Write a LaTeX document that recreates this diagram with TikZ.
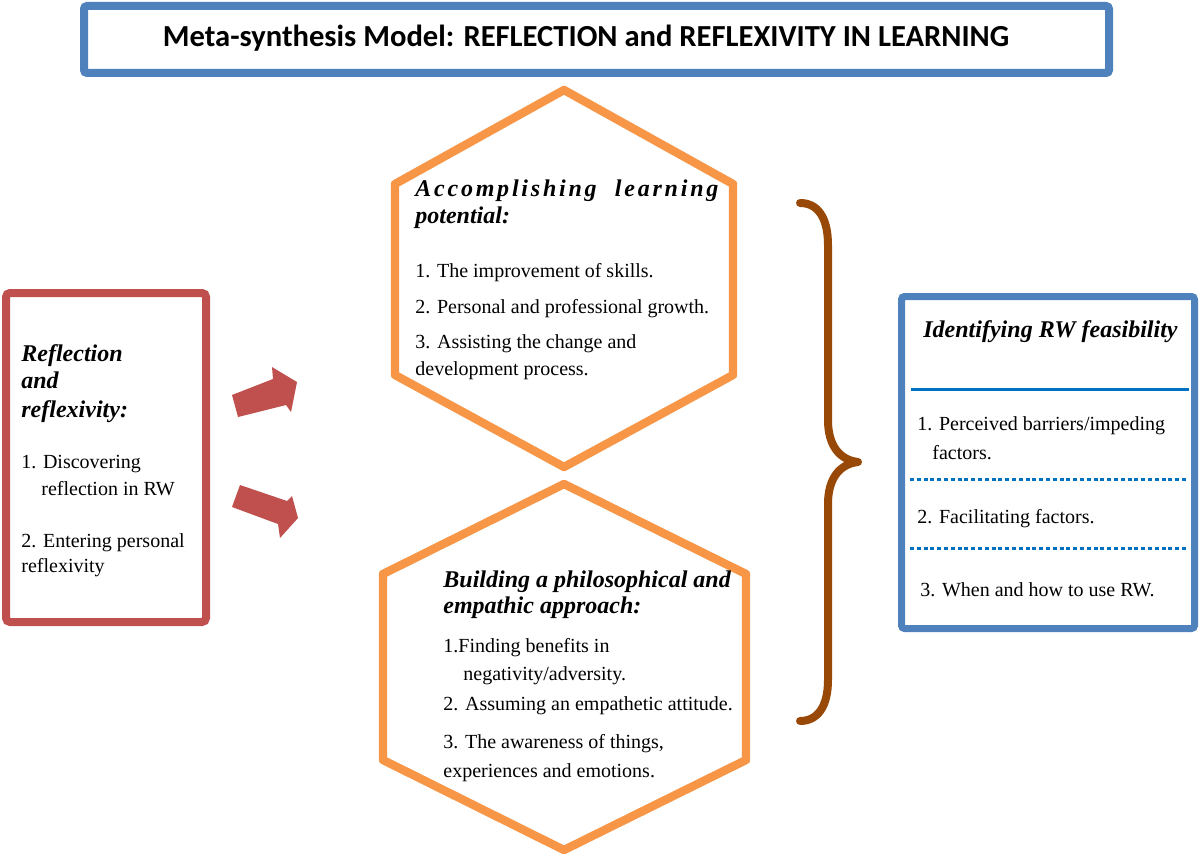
\documentclass[tikz,border=0pt]{standalone}
\usepackage{fontspec}
\setmainfont{Liberation Serif}
\newfontfamily\titlefont{Carlito}
\usetikzlibrary{shadows}
\definecolor{tblue}{HTML}{4F81BD}
\definecolor{lblue}{HTML}{0070C0}
\definecolor{tred}{HTML}{C0504D}
\definecolor{torange}{HTML}{F79646}
\definecolor{tbrown}{HTML}{984807}
\begin{document}
\begin{tikzpicture}[x=0.5pt,y=-0.5pt,
  body/.style={anchor=base west, inner sep=0pt, font=\fontsize{10}{12}\selectfont},
  headtxt/.style={anchor=base west, inner sep=0pt, font=\fontsize{12}{14}\selectfont\bfseries\itshape},
  bluebox/.style={draw=tblue, fill=white, rounded corners=1.5pt, drop shadow={shadow xshift=0.8pt, shadow yshift=-0.8pt, opacity=0.35}},
  redbox/.style={draw=tred, fill=white, line width=4pt, rounded corners=2pt, drop shadow={shadow xshift=0.8pt, shadow yshift=-0.8pt, opacity=0.3}},
  hexa/.style={draw=torange, line width=4.2pt, line join=round, fill=white},
  arrowrim/.style={draw=white, fill=white, line width=4pt, line join=round, drop shadow={shadow xshift=0.9pt, shadow yshift=-1.1pt, opacity=0.22, fill=black!70}},
  arrowbody/.style={fill=tred},
  bracestyle/.style={draw=tbrown, line width=4pt, line cap=round, line join=round},
  sepsolid/.style={draw=lblue, line width=1.5pt},
  sepdot/.style={draw=lblue, line width=1.5pt, dash pattern=on 2pt off 1.4pt}
]
\useasboundingbox (0,0) rectangle (1200,856);

% title
\draw[bluebox, line width=4pt] (84,6) rectangle (1109,73);
\node[anchor=base, inner sep=0pt, font=\titlefont\fontsize{15.3}{18}\selectfont\bfseries] (title) at (586,47)
  {Meta-synthesis Model: REFLECTION and REFLEXIVITY IN LEARNING};

% left box
\draw[redbox] (6,293) rectangle (206,622);
\node[headtxt] (l1) at (21,361) {Reflection};
\node[headtxt] (l2) at (21,388) {and};
\node[headtxt] (l3) at (21,417) {reflexivity:};
\node[body] (l4) at (21,468) {1. Discovering};
\node[body] (l5) at (41,495) {reflection in RW};
\node[body] (l6) at (21,547) {2. Entering personal};
\node[body] (l7) at (21,572) {reflexivity};

% block arrows (tilted, 3D look)
\coordinate (a1) at (232,395); \coordinate (a2) at (273,379); \coordinate (a3) at (272,367);
\coordinate (a4) at (297,382); \coordinate (a5) at (291,412); \coordinate (a6) at (286,405);
\coordinate (a7) at (238,417);
\draw[arrowrim] (a1) -- (a2) -- (a3) -- (a4) -- (a5) -- (a6) -- (a7) -- cycle;
\fill[arrowbody] (a1) -- (a2) -- (a3) -- (a4) -- (a5) -- (a6) -- (a7) -- cycle;

\coordinate (b1) at (240,485); \coordinate (b2) at (287,501); \coordinate (b3) at (292,496);
\coordinate (b4) at (298,518); \coordinate (b5) at (280,538); \coordinate (b6) at (278,524);
\coordinate (b7) at (232,507);
\draw[arrowrim] (b1) -- (b2) -- (b3) -- (b4) -- (b5) -- (b6) -- (b7) -- cycle;
\fill[arrowbody] (b1) -- (b2) -- (b3) -- (b4) -- (b5) -- (b6) -- (b7) -- cycle;

% top hexagon
\draw[hexa] (564,90) -- (733,184) -- (733,375) -- (564,467) -- (395,375) -- (395,184) -- cycle;
\node[headtxt] (t1) at (415,197) {\makebox[151.5pt][l]{A\hfill c\hfill c\hfill o\hfill m\hfill p\hfill l\hfill i\hfill s\hfill h\hfill i\hfill n\hfill g\hfill\hspace{0.3em}\hfill\hfill\hfill l\hfill e\hfill a\hfill r\hfill n\hfill i\hfill n\hfill g}};
\node[headtxt] (t2) at (415,223) {potential:};
\node[body] (t3) at (415,277) {1. The improvement of skills.};
\node[body] (t4) at (415,313) {2. Personal and professional growth.};
\node[body] (t5) at (415,348) {3. Assisting the change and};
\node[body] (t6) at (415,375) {development process.};

% bottom hexagon
\draw[hexa] (564,484) -- (746,574) -- (746,760) -- (564,850) -- (383,760) -- (383,574) -- cycle;
\node[headtxt] (h1) at (443,587) {Building a philosophical and};
\node[headtxt] (h2) at (443,613) {empathic approach:};
\node[body] (h3) at (443,652) {1.Finding benefits in};
\node[body] (h4) at (463,680) {negativity/adversity.};
\node[body] (h5) at (443,710) {2. Assuming an empathetic attitude.};
\node[body] (h6) at (443,748) {3. The awareness of things,};
\node[body] (h7) at (443,777) {experiences and emotions.};

% brace
\draw[bracestyle] (800,203) .. controls (818,203) and (828,218) .. (828,245)
  -- (828,420) .. controls (828,446) and (840,460) .. (858,462)
  .. controls (840,464) and (828,478) .. (828,504)
  -- (828,680) .. controls (828,706) and (818,721) .. (800,721);

% right box
\draw[bluebox, line width=3.5pt] (901.5,296.5) rectangle (1194.5,628.5);
\node[headtxt] (r1) at (923,337) {Identifying RW feasibility};
\coordinate (s1a) at (911,389); \coordinate (s1b) at (1189,389);
\draw[sepsolid] (s1a) -- (s1b);
\node[body] (r2) at (917,430) {1. Perceived barriers/impeding};
\node[body] (r3) at (932,459) {factors.};
\coordinate (s2a) at (910,479); \coordinate (s2b) at (1188,479);
\draw[sepdot] (s2a) -- (s2b);
\node[body] (r4) at (917,523) {2. Facilitating factors.};
\coordinate (s3a) at (910,548); \coordinate (s3b) at (1188,548);
\draw[sepdot] (s3a) -- (s3b);
\node[body] (r5) at (920,596) {3. When and how to use RW.};
\end{tikzpicture}
\end{document}
